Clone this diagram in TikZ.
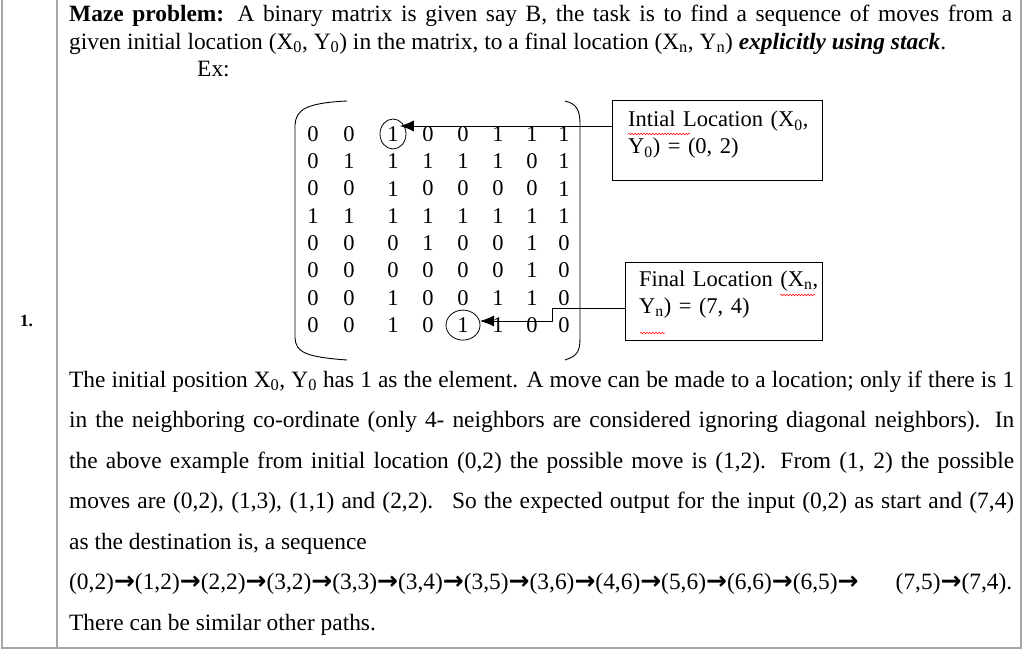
\documentclass[tikz,border=0pt]{standalone}
\usepackage{fontspec}
\setmainfont{Liberation Serif}
\newfontfamily\djv{DejaVu Sans}
\usetikzlibrary{decorations.pathmorphing,arrows.meta}
\newcommand{\ar}{{\djv\bfseries\fontsize{25}{25}\selectfont →}}
\begin{document}
\begin{tikzpicture}[x=1pt,y=-1pt,
  txt/.style={anchor=base west,inner sep=0pt,font=\fontsize{23.4}{28}\selectfont},
  cell/.style={inner sep=0pt,font=\fontsize{22.5}{26}\selectfont},
  lbl/.style={anchor=north west,align=left,inner sep=0pt,font=\fontsize{22.5}{27}\selectfont,text width=195pt},
  grid/.style={draw=gray!70,line width=1.2pt},
  arr/.style={-{Latex[length=14pt,width=11pt]},line width=0.9pt},
  wavy/.style={red,line width=0.5pt,decorate,decoration={snake,amplitude=0.8pt,segment length=3pt}}]
\useasboundingbox (0,0) rectangle (1024,651);
\draw[grid] (2,0) -- (2,648) -- (1021,648) -- (1021,0);
\draw[grid] (57,0) -- (57,648);
\node[txt,font=\fontsize{17}{20}\selectfont\bfseries] (num) at (20,326) {1.};
% header
\node[txt] (l1) at (69,21) {\hbox to 943pt{\textbf{Maze problem:} A binary matrix is given say B, the task is to find a sequence of moves from a}};
\node[txt] (l2) at (69,49) {given initial location (X\textsubscript{0}, Y\textsubscript{0}) in the matrix, to a final location (X\textsubscript{n}, Y\textsubscript{n}) \textbf{\textit{explicitly using stack}}.};
\node[txt] (ex) at (197,76) {Ex:};
% matrix
\foreach \r [count=\i from 0] in {{0,0,1,0,0,1,1,1},{0,1,1,1,1,1,0,1},{0,0,1,0,0,0,0,1},{1,1,1,1,1,1,1,1},{0,0,0,1,0,0,1,0},{0,0,0,0,0,0,1,0},{0,0,1,0,0,1,1,0},{0,0,1,0,1,1,0,0}}{
  \foreach \v [count=\j from 0] in \r {
    \pgfmathsetmacro{\cx}{{313,349,393,428,463,498,532,564}[\j]}
    \node[cell] (m\i\j) at (\cx,{134+27.3*\i}) {\v};
  }
}
\draw[line width=0.9pt] (347,101) .. controls (305,103) and (296,110) .. (295,125) -- (295,338) .. controls (296,352) and (305,357) .. (347,360);
\draw[line width=0.9pt] (565,101) .. controls (577,104) and (580,110) .. (580,125) -- (580,338) .. controls (580,352) and (577,356) .. (565,360);
\draw[line width=0.8pt] (m02) ellipse (13 and 15);
\draw[line width=0.8pt] (m74) ellipse (17 and 15);
% boxes
\draw[line width=0.8pt] (612,100) rectangle (822,180);
\node[lbl] (t1) at (628,111) {Intial Location (X\textsubscript{0},\\Y\textsubscript{0}) = (0, 2)};
\draw[line width=0.8pt] (625,262) rectangle (822,340);
\node[lbl] (t2) at (639,271) {Final Location (X\textsubscript{n},\\Y\textsubscript{n}) = (7, 4)};
\coordinate (a1) at (612,126);
\draw[arr] (a1) -- ([xshift=1pt]m02.east |- a1);
\coordinate (a2) at (625,308);
\coordinate (a2b) at (552,308);
\coordinate (a2c) at (552,321);
\draw[arr] (a2) -- (a2b) -- (a2c) -- (480,321);
\draw[wavy] (628,134) -- (690,134);
\draw[wavy] (780,295) -- (815,295);
\draw[wavy] (640,333) -- (665,333);
% body
\node[txt] (p1) at (69,387) {\hbox to 945pt{The initial position X\textsubscript{0}, Y\textsubscript{0} has 1 as the element. A move can be made to a location; only if there is 1}};
\node[txt] (p2) at (69,427) {\hbox to 945pt{in the neighboring co-ordinate (only 4- neighbors are considered ignoring diagonal neighbors). In}};
\node[txt] (p3) at (69,468) {\hbox to 945pt{the above example from initial location (0,2) the possible move is (1,2). From (1, 2) the possible}};
\node[txt] (p4) at (69,508) {\hbox to 945pt{moves are (0,2), (1,3), (1,1) and (2,2). \ So the expected output for the input (0,2) as start and (7,4)}};
\node[txt] (p5) at (69,549) {as the destination is, a sequence};
\node[txt] (p6) at (69,589) {\hbox to 943pt{(0,2)\ar(1,2)\ar(2,2)\ar(3,2)\ar(3,3)\ar(3,4)\ar(3,5)\ar(3,6)\ar(4,6)\ar(5,6)\ar(6,6)\ar(6,5)\ar\hspace{8pt plus 20pt}(7,5)\ar(7,4).}};
\node[txt] (p7) at (69,630) {There can be similar other paths.};
\end{tikzpicture}
\end{document}
